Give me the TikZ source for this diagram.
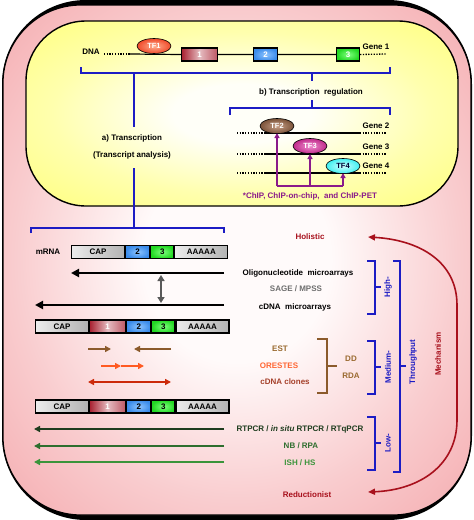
\documentclass[tikz,border=0pt]{standalone}
\usepackage{fontspec}
\setmainfont{Liberation Sans}
\usetikzlibrary{arrows.meta,shapes.geometric,calc}
\definecolor{pinkE}{HTML}{F4A6AA}
\definecolor{pinkC}{HTML}{FFFAFA}
\definecolor{yelE}{HTML}{FFFF7C}
\definecolor{yelC}{HTML}{FFFFF8}
\definecolor{bluL}{HTML}{1C1CC4}
\definecolor{purp}{HTML}{8A1A8A}
\definecolor{mech}{HTML}{A8101C}
\definecolor{brn}{HTML}{8B5A2B}
\definecolor{brnT}{HTML}{9A6A30}
\definecolor{orn}{HTML}{FF5A22}
\definecolor{ornT}{HTML}{FF6633}
\definecolor{redA}{HTML}{CC2A0A}
\definecolor{cloneT}{HTML}{A5402A}
\definecolor{dgA}{HTML}{1E3C1E}
\definecolor{dgB}{HTML}{2E6E2E}
\definecolor{dgC}{HTML}{3A943A}
\definecolor{exR}{HTML}{A82030}
\definecolor{exB}{HTML}{3A8BEA}
\definecolor{exBl}{HTML}{8CC4FF}
\definecolor{exG}{HTML}{22D822}
\definecolor{exGl}{HTML}{80FF80}
\definecolor{sageT}{HTML}{6E6E6E}
\definecolor{tfOr}{HTML}{F04A2A}
\definecolor{tfOrL}{HTML}{FFB090}
\definecolor{tfBr}{HTML}{7A5238}
\definecolor{tfBrL}{HTML}{C8A088}
\definecolor{tfMg}{HTML}{C02A8A}
\definecolor{tfMgL}{HTML}{F090D0}
\definecolor{tfCy}{HTML}{40F0F0}
\definecolor{tfCyL}{HTML}{D0FFFF}
\pgfdeclareradialshading{cellshade}{\pgfpoint{0bp}{0bp}}{color(0bp)=(pinkC); color(10bp)=(pinkC); color(24bp)=(pinkC!45!pinkE); color(38bp)=(pinkE); color(50bp)=(pinkE)}
\pgfdeclareradialshading{nucshade}{\pgfpoint{0bp}{0bp}}{color(0bp)=(yelC); color(8bp)=(yelC); color(22bp)=(yelC!40!yelE); color(36bp)=(yelE); color(50bp)=(yelE)}
\tikzset{
  lbl/.style={font=\bfseries\fontsize{8}{9.5}\selectfont, inner sep=0pt},
  exon/.style={draw=black, line width=1.1pt, minimum height=13pt, inner sep=0pt, anchor=west, font=\bfseries\fontsize{8}{9.5}\selectfont},
  graybox/.style={exon, minimum width=53pt, left color=gray!15, right color=gray!60},
  redbox/.style={exon, minimum width=36pt, left color=exR, right color=exR!75, middle color=exR!30, text=white},
  bluebox/.style={exon, minimum width=24pt, inner color=exBl, outer color=exB},
  greenbox/.style={exon, minimum width=23pt, inner color=exGl, outer color=exG},
  tf/.style={ellipse, draw=black, line width=0.6pt, minimum width=34pt, minimum height=15pt, inner sep=0pt, font=\bfseries\fontsize{7.5}{8}\selectfont, text=white},
  dnaline/.style={line width=1.2pt},
  dots/.style={line width=1.3pt, dash pattern=on 1.3pt off 1.4pt},
  brk/.style={draw=bluL, line width=1.6pt},
  parr/.style={draw=purp, line width=1.6pt, -{Triangle[length=5pt,width=5pt]}},
  bigarr/.style={line width=2.4pt, -{Triangle[length=8pt,width=8pt]}},
  smarr/.style={line width=1.8pt, -{Triangle[length=6pt,width=6pt]}},
  mecharr/.style={draw=mech, line width=1.6pt, -{Triangle[length=7pt,width=6pt]}},
}
\begin{document}
\begin{tikzpicture}[x=1pt,y=-1pt]
\useasboundingbox (0,0) rectangle (474,520);
% outer cell with shadow
\fill[black, rounded corners=84] (2,0) rectangle (472,520);
\shade[shading=cellshade, rounded corners=78] (3,5) rectangle (471,515);
\draw[black, line width=1.2pt, rounded corners=78] (3,5) rectangle (471,515);
% nucleus
\shade[shading=nucshade, rounded corners=60] (26,21) rectangle (458,206);
\draw[black, line width=1.4pt, rounded corners=60] (26,21) rectangle (458,206);

% ---- DNA gene 1 ----
\node[lbl] (dna) at (91,52) {DNA};
\coordinate (d0) at (104,54);
\coordinate (d1) at (130,54);
\node[redbox, text=white] (g1a) at (181,54.5) {1};
\node[bluebox, text=white] (g1b) at (253,54.5) {2};
\node[greenbox, text=white] (g1c) at (336,54.5) {3};
\coordinate (d2) at (387,54);
\draw[dots] (d0) -- (d1);
\draw[dnaline] (d1) -- (g1a.west) (g1a.east) -- (g1b.west) (g1b.east) -- (g1c.west);
\draw[dots] (g1c.east) -- (d2);
\node[tf, inner color=tfOrL, outer color=tfOr] (tf1) at (154,46) {TF1};
\node[lbl] (gene1) at (376,47) {Gene 1};

% bracket 1
\draw[brk] (81,67) -- (81,73) -- (390,73) -- (390,67);
\coordinate (b1c) at (312,73);
\coordinate (b1t) at (312,81);
\draw[brk] (b1c) -- (b1t);
\coordinate (b1l) at (134,73);
\node[lbl] (ta) at (132,138) {a) Transcription};
\node[lbl] (tb) at (132,155) {(Transcript analysis)};
\draw[brk] (b1l) -- (134,127);
\coordinate (b3c) at (134,228);
\draw[brk] (134,168) -- (b3c);

% transcription regulation
\node[lbl] (treg) at (311,92) {b) Transcription\ \ regulation};
\draw[brk] (312,100) -- (312,108);
\draw[brk] (230,115) -- (230,108) -- (390,108) -- (390,115);

% gene 2-4
\foreach \y/\n in {133/2,154/3,173/4}{
  \coordinate (gl\n a) at (237,\y);
  \coordinate (gl\n b) at (265,\y);
  \coordinate (gl\n c) at (360,\y);
  \coordinate (gl\n d) at (386,\y);
  \draw[dots] (gl\n a) -- (gl\n b);
  \draw[dnaline] (gl\n b) -- (gl\n c);
  \draw[dots] (gl\n c) -- (gl\n d);
}
\node[tf, inner color=tfBrL, outer color=tfBr] (tf2) at (277,126) {TF2};
\node[tf, inner color=tfMgL, outer color=tfMg] (tf3) at (310,146) {TF3};
\node[tf, inner color=tfCyL, outer color=tfCy, text=black!80!blue] (tf4) at (343,166) {TF4};
\node[lbl] (gene2) at (376,126) {Gene 2};
\node[lbl] (gene3) at (376,147) {Gene 3};
\node[lbl] (gene4) at (376,166) {Gene 4};
% ChIP arrows
\coordinate (p2) at (277,186);
\coordinate (p3) at (310,186);
\coordinate (p4) at (343,186);
\draw[draw=purp, line width=1.6pt] (p2) -- (p4);
\draw[parr] (p2) -- (gl2b -| p2);
\draw[parr] (p3) -- (gl3b -| p3);
\draw[parr] (p4) -- (gl4b -| p4);
\node[lbl, text=purp] (chip) at (310,196) {*ChIP, ChIP-on-chip,\ \ and ChIP-PET};

% ---- lower part ----
\draw[brk] (31,233) -- (31,228) -- (224,228) -- (224,233);
\node[lbl] (mrna) at (48,252) {mRNA};
\node[graybox] (m1cap) at (71,252) {CAP};
\node[bluebox, text=black] (m12) at (m1cap.east) {2};
\node[greenbox, text=black] (m13) at (m12.east) {3};
\node[graybox] (m1a) at (m13.east) {AAAAA};

\coordinate (a1s) at (224,273);
\coordinate (a1e) at (71,273);
\coordinate (a2s) at (224,305);
\coordinate (a2e) at (35,305);
\draw[bigarr] (a1s) -- (a1e);
\draw[bigarr] (a2s) -- (a2e);
\coordinate (dv1) at (161,275);
\coordinate (dv2) at (161,303);
\draw[draw=gray!70!black, line width=2pt, {Triangle[length=6pt,width=7pt]}-{Triangle[length=6pt,width=7pt]}] (dv1) -- (dv2);
\node[lbl] (oligo) at (298,273) {Oligonucleotide\ \ microarrays};
\node[lbl, text=sageT] (sage) at (296,289) {SAGE / MPSS};
\node[lbl] (cdnam) at (295,307) {cDNA\ \ microarrays};

% second transcript
\node[graybox] (m2cap) at (35,326.5) {CAP};
\node[redbox] (m21) at (m2cap.east) {1};
\node[bluebox, text=black] (m22) at (m21.east) {2};
\node[greenbox, text=black] (m23) at (m22.east) {3};
\node[graybox] (m2a) at (m23.east) {AAAAA};

\coordinate (br1) at (88,349);  \coordinate (br2) at (111,349);
\coordinate (br3) at (171,349); \coordinate (br4) at (134,349);
\draw[smarr, draw=brn] (br1) -- (br2);
\draw[smarr, draw=brn] (br3) -- (br4);
\coordinate (or1) at (101,366); \coordinate (or2) at (121,366); \coordinate (or3) at (144,366);
\draw[smarr, draw=orn] (or1) -- (or2);
\draw[smarr, draw=orn] (or2) -- (or3);
\coordinate (rd1) at (88,382); \coordinate (rd2) at (171,382);
\draw[line width=1.8pt, draw=redA, {Triangle[length=6pt,width=6pt]}-{Triangle[length=6pt,width=6pt]}] (rd1) -- (rd2);

\node[lbl, text=brnT] (est) at (280,349) {EST};
\node[lbl, text=ornT] (orestes) at (279,366) {ORESTES};
\node[lbl, text=cloneT] (clones) at (285,382) {cDNA clones};
\draw[draw=brn, line width=1.3pt] (317,339) -- (327,339) -- (327,393) -- (317,393);
\draw[draw=brn, line width=1.3pt] (327,366) -- (337,366);
\node[lbl, text=brnT] (dd) at (351,359) {DD};
\node[lbl, text=brnT] (rda) at (351,376) {RDA};

% third transcript
\node[graybox] (m3cap) at (35,406.5) {CAP};
\node[redbox] (m31) at (m3cap.east) {1};
\node[bluebox, text=black] (m32) at (m31.east) {2};
\node[greenbox, text=black] (m33) at (m32.east) {3};
\node[graybox] (m3a) at (m33.east) {AAAAA};

\coordinate (g1s) at (224,429); \coordinate (g1e) at (34,429);
\coordinate (g2s) at (224,446); \coordinate (g2e) at (34,446);
\coordinate (g3s) at (224,462); \coordinate (g3e) at (34,462);
\draw[smarr, line width=2pt, draw=dgA] (g1s) -- (g1e);
\draw[smarr, line width=2pt, draw=dgB] (g2s) -- (g2e);
\draw[smarr, line width=2pt, draw=dgC] (g3s) -- (g3e);
\node[lbl, text=dgA] (rtpcr) at (300,429) {RTPCR / \textit{in situ} RTPCR / RTqPCR};
\node[lbl, text=dgB] (nb) at (301,446) {NB / RPA};
\node[lbl, text=dgC] (ish) at (300,463) {ISH / HS};

% throughput brackets
\draw[brk] (367,261) -- (375,261) -- (375,314) -- (367,314) (375,287) -- (381,287);
\draw[brk] (367,341) -- (375,341) -- (375,394) -- (367,394) (375,367) -- (381,367);
\draw[brk] (367,417) -- (375,417) -- (375,470) -- (367,470) (375,443) -- (381,443);
\draw[brk] (393,261) -- (400,261) -- (400,472) -- (393,472) (400,366) -- (406,366);
\node[lbl, text=bluL, rotate=90] (high) at (388,287) {High-};
\node[lbl, text=bluL, rotate=90] (med) at (388,367) {Medium-};
\node[lbl, text=bluL, rotate=90] (low) at (388,443) {Low-};
\node[lbl, text=bluL, rotate=90] (thr) at (413,362) {Throughput};

% mechanism
\node[lbl, text=mech] (hol) at (310,237) {Holistic};
\node[lbl, text=mech] (red) at (307,495) {Reductionist};
\node[lbl, text=mech, rotate=90] (mec) at (438,354) {Mechanism};
\coordinate (mt) at (368,237);
\coordinate (mb) at (368,492);
\coordinate (mv1) at (457,305);
\coordinate (mv2) at (457,420);
\draw[mecharr] (mv1) .. controls (457,262) and (420,240) .. (mt);
\draw[mecharr] (mv1) -- (mv2) .. controls (457,465) and (420,490) .. (mb);
\end{tikzpicture}
\end{document}
